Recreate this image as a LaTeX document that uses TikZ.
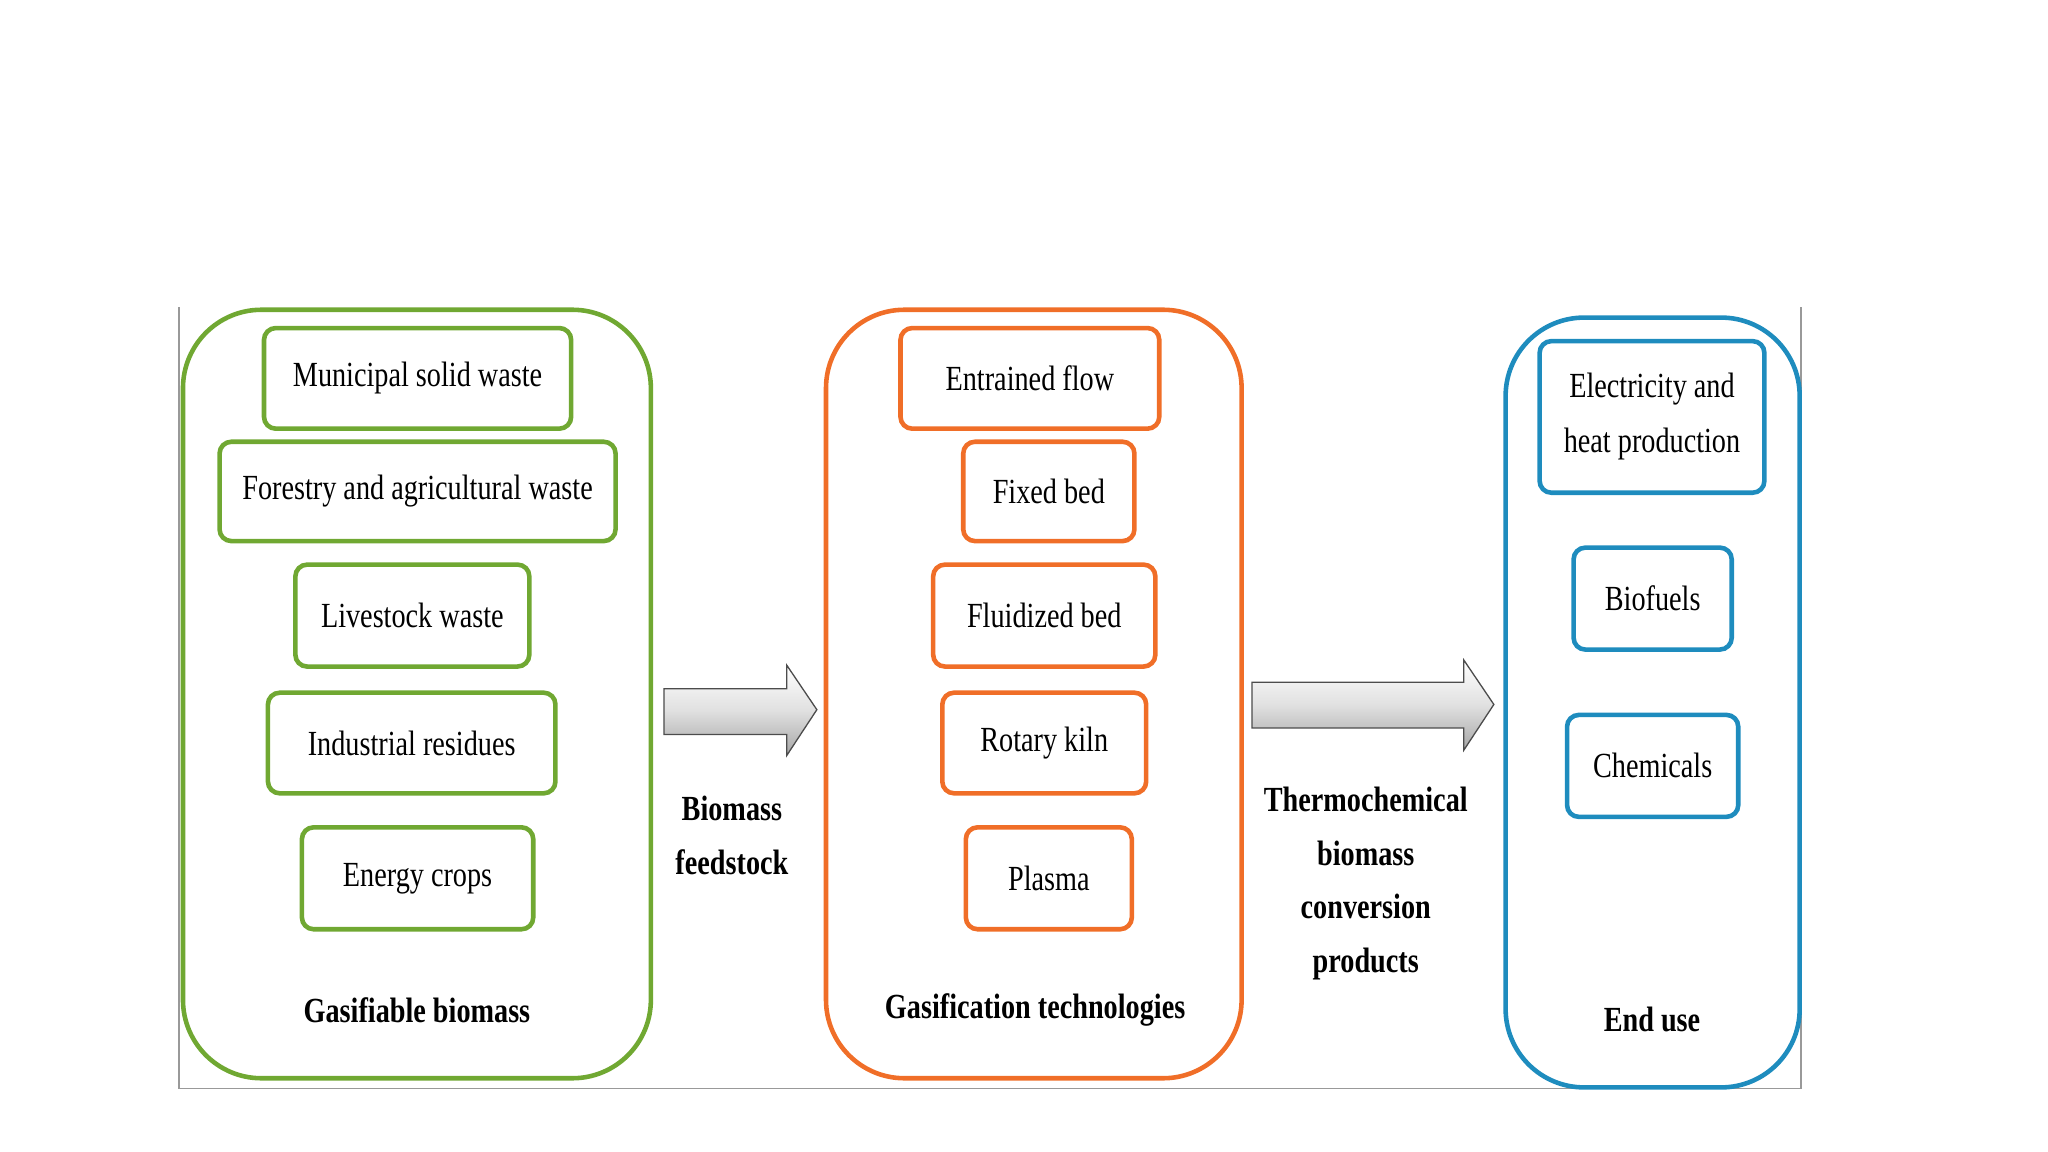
\documentclass[tikz,border=0pt]{standalone}
\usepackage{fontspec}
\setmainfont{Liberation Serif}[FakeStretch=0.8]
\usetikzlibrary{positioning}
\definecolor{gr}{RGB}{112,168,50}
\definecolor{org}{RGB}{240,110,40}
\definecolor{bl}{RGB}{30,140,190}
\begin{document}
\begin{tikzpicture}[x=1pt,y=-1pt,
 cont/.style={line width=3.5pt,rounded corners=60pt},
 box/.style={draw,line width=3.5pt,rounded corners=9pt,fill=white,inner sep=0pt,font=\fontsize{27}{42}\selectfont,align=center,text=black},
 lab/.style={font=\fontsize{27}{41}\selectfont\bfseries,align=center},
 arr/.style={draw=black!70,line width=1pt,top color=white,bottom color=black!35,middle color=black!12}]
\useasboundingbox (0,0) rectangle (1567,881);
\draw[black!40,line width=1pt] (137,235) -- (137,833) -- (1378,833) -- (1378,235);
\draw[cont,draw=gr] (140,237) rectangle (498,825);
\draw[cont,draw=org] (632,237) rectangle (950,825);
\draw[cont,draw=bl] (1152,243) rectangle (1377,832);
\newcommand{\bx}[7]{\node[box,draw=#6,minimum width=#3-#2,minimum height=#5-#4] (#1) at ({(#2+#3)/2},{(#4+#5)/2}) {#7};}
\bx{m}{202}{437}{251}{328}{gr}{Municipal solid waste}
\bx{f}{168}{471}{338}{414}{gr}{Forestry and agricultural waste}
\bx{l}{226}{405}{432}{510}{gr}{Livestock waste}
\bx{i}{205}{425}{530}{607}{gr}{Industrial residues}
\bx{e}{231}{408}{633}{711}{gr}{Energy crops}
\bx{ef}{689}{887}{251}{328}{org}{Entrained flow}
\bx{fb}{737}{868}{338}{414}{org}{Fixed bed}
\bx{fl}{714}{884}{432}{510}{org}{Fluidized bed}
\bx{rk}{721}{877}{530}{607}{org}{Rotary kiln}
\bx{pl}{739}{866}{633}{711}{org}{Plasma}
\bx{eh}{1178}{1350}{261}{377}{bl}{Electricity and\\heat production}
\bx{bf}{1204}{1325}{419}{497}{bl}{Biofuels}
\bx{ch}{1199}{1330}{547}{625}{bl}{Chemicals}
\node[lab] (t1) at (319,773) {Gasifiable biomass};
\node[lab] (t2) at (792,773) {Gasification technologies};
\node[lab] (t3) at (1264,780) {End use};
\node[lab] (t4) at (560,639) {Biomass\\feedstock};
\node[lab] (t5) at (1045,676) {Thermochemical\\biomass\\conversion\\products};
\path[arr] (508,527) -- (602,527) -- (602,509) -- (625,543) -- (602,578) -- (602,562) -- (508,562) -- cycle;
\path[arr] (958,522) -- (1120,522) -- (1120,505) -- (1143,539) -- (1120,574) -- (1120,557) -- (958,557) -- cycle;
\end{tikzpicture}
\end{document}
